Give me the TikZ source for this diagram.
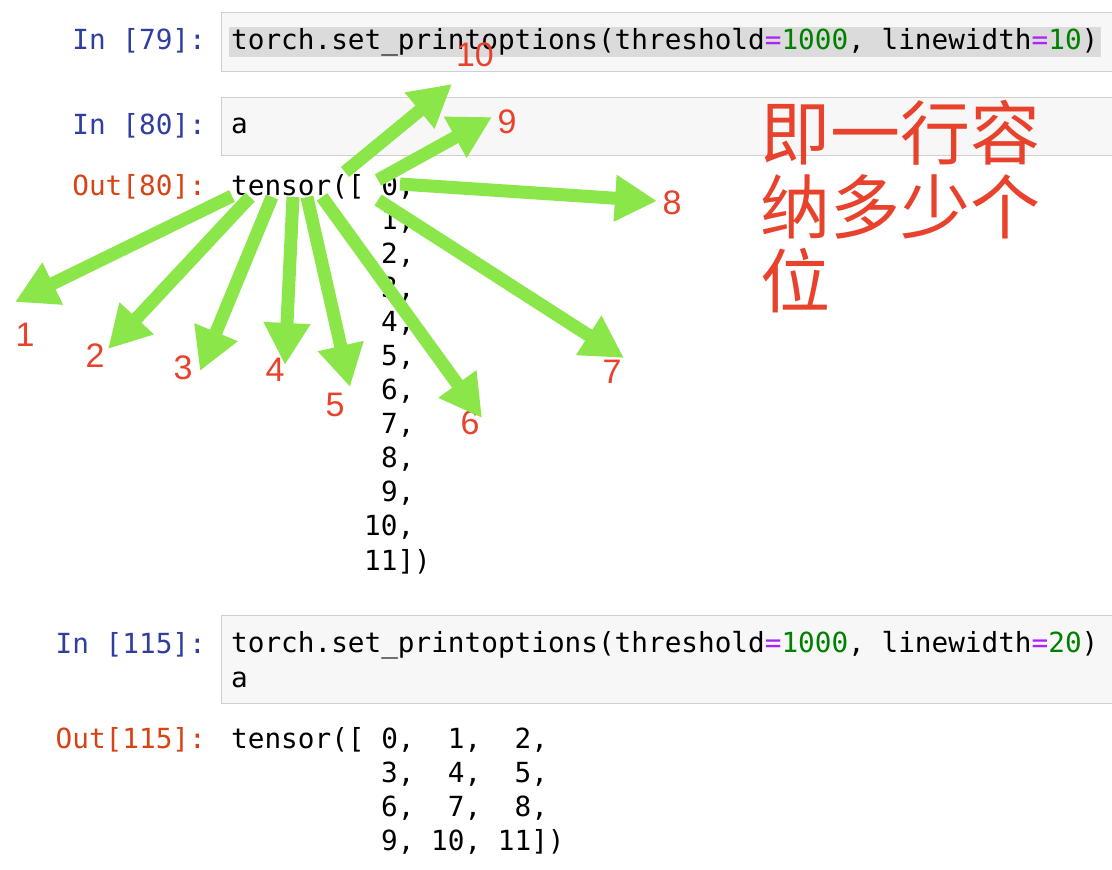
\documentclass[tikz,border=0pt]{standalone}
\usepackage{fontspec}
\setmonofont{DejaVu Sans Mono}
\setsansfont{Liberation Sans}
\newfontfamily\cjk{Noto Sans CJK SC}
\usetikzlibrary{arrows.meta}
\definecolor{inblue}{HTML}{303F9F}
\definecolor{outred}{HTML}{D84315}
\definecolor{kwgreen}{HTML}{008000}
\definecolor{oppurple}{HTML}{AA22FF}
\definecolor{cellbg}{HTML}{F7F7F7}
\definecolor{cellbd}{HTML}{CFCFCF}
\definecolor{annred}{HTML}{E8412C}
\definecolor{arrgreen}{HTML}{8BE64A}
\newcommand{\msp}{\hspace{0.602em}}
\newcommand{\eqp}{\textcolor{oppurple}{=}}
\newcommand{\gn}[1]{\textcolor{kwgreen}{#1}}
\begin{document}
\begin{tikzpicture}[x=1pt,y=-1pt,
  code/.style={anchor=west,inner sep=0pt,font=\fontsize{27.7}{34}\selectfont\ttfamily},
  inp/.style={code,anchor=east,text=inblue},
  outp/.style={code,anchor=east,text=outred},
  cell/.style={draw=cellbd,fill=cellbg,line width=1pt},
  lab/.style={inner sep=0pt,text=annred,font=\fontsize{34}{40}\selectfont\sffamily},
  garrow/.style={draw=arrgreen,line width=13pt,-{Triangle[width=44pt,length=42pt]}}]
\useasboundingbox (0,0) rectangle (1112,870);
\fill[white] (0,0) rectangle (1112,870);
% cells
\draw[cell] (221,12) rectangle (1125,71);
\fill[black!14] (229,27) rectangle (1101,57);
\draw[cell] (221,97) rectangle (1125,155);
\draw[cell] (221,615) rectangle (1125,703);
\node[inp] (p79) at (206,41) {In [79]:};
\node[code] (c79) at (231,42) {torch.set\_printoptions(threshold\eqp\gn{1000}, linewidth\eqp\gn{10})};
\node[inp] (p80) at (206,126) {In [80]:};
\node[code] (c80) at (231,126) {a};
\node[outp] (o80) at (206,187) {Out[80]:};
\node[code] (t0) at (231,187) {tensor([\msp0,};
\foreach \v/\y in {1/221,2/255,3/289,4/323,5/357,6/391,7/425,8/459,9/493}
  \node[code] (t\v) at (381,\y) {\v,};
\node[code] (t10) at (364,527) {10,};
\node[code] (t11) at (364,562) {11])};
\node[inp] (p115) at (206,645) {In [115]:};
\node[code] (c115a) at (231,645) {torch.set\_printoptions(threshold\eqp\gn{1000}, linewidth\eqp\gn{20})};
\node[code] (c115b) at (231,680) {a};
\node[outp] (o115) at (206,740) {Out[115]:};
\node[code] (u1) at (231,740) {tensor([\msp0,\msp\msp1,\msp\msp2,};
\node[code] (u2) at (381,774) {3,\msp\msp4,\msp\msp5,};
\node[code] (u3) at (381,808) {6,\msp\msp7,\msp\msp8,};
\node[code] (u4) at (381,842) {9,\msp10,\msp11])};
% annotation text
\node[inner sep=0pt,anchor=north west,text=annred,align=left,font=\fontsize{70}{74}\selectfont\cjk] (zh) at (760,100) {即一行容\\纳多少个\\位};
% labels
\node[lab] (l1) at (25,335) {1};
\node[lab] (l2) at (95,356) {2};
\node[lab] (l3) at (183,368) {3};
\node[lab] (l4) at (275,370) {4};
\node[lab] (l5) at (335,405) {5};
\node[lab] (l6) at (470,423) {6};
\node[lab] (l7) at (612,372) {7};
\node[lab] (l8) at (672,203) {8};
\node[lab] (l9) at (507,122) {9};
\node[lab] (l10) at (475,55) {10};
% arrow coordinates
\coordinate (s1) at (232,196); \coordinate (e1) at (15,302);
\coordinate (s2) at (250,197); \coordinate (e2) at (108,349);
\coordinate (s3) at (272,197); \coordinate (e3) at (200,371);
\coordinate (s4) at (293,197); \coordinate (e4) at (285,365);
\coordinate (s5) at (307,197); \coordinate (e5) at (350,387);
\coordinate (s6) at (322,197); \coordinate (e6) at (482,418);
\coordinate (s7) at (378,200); \coordinate (e7) at (624,358);
\coordinate (s8) at (400,184); \coordinate (e8) at (657,201);
\coordinate (s9) at (378,180); \coordinate (e9) at (492,117);
\coordinate (s10) at (345,172); \coordinate (e10) at (452,84);
\foreach \i in {1,...,10} \draw[garrow] (s\i) -- (e\i);
\end{tikzpicture}
\end{document}
